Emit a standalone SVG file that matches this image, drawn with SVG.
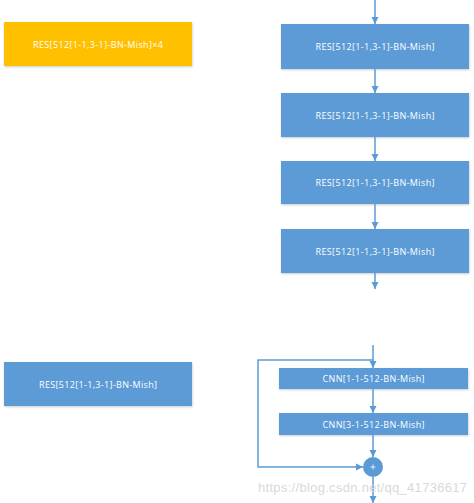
<svg xmlns="http://www.w3.org/2000/svg" width="474" height="503" viewBox="0 0 474 503">
<style>
.blue{fill:#5B9BD5;}
.orange{fill:#FFC000;}
.lbl{fill:#ffffff;font-family:"Open Sans","Liberation Sans",sans-serif;font-size:9px;text-anchor:middle;dominant-baseline:central;}
.con{stroke:#5B9BD5;stroke-width:1.5;fill:none;}
.wm{fill:#d9d9d9;font-family:"Liberation Sans",sans-serif;font-size:13px;}
</style>
<defs>
<marker id="arr" viewBox="0 0 10 10" refX="10" refY="5" markerWidth="5" markerHeight="5" orient="auto" markerUnits="strokeWidth">
<path d="M0,0 L10,5 L0,10 z" fill="#5B9BD5"/>
</marker>
<filter id="sh" x="-5%" y="-10%" width="110%" height="130%">
<feDropShadow dx="0.5" dy="1" stdDeviation="0.8" flood-color="#000" flood-opacity="0.2"/>
</filter>
</defs>
<rect width="474" height="503" fill="#ffffff"/>
<g id="legend-orange"><rect class="orange" x="4" y="22" width="188" height="44" filter="url(#sh)"/><text class="lbl" x="98" y="44" textLength="130">RES[512[1-1,3-1]-BN-Mish]×4</text></g>
<g id="legend-blue"><rect class="blue" x="4" y="362" width="188" height="44" filter="url(#sh)"/><text class="lbl" x="98" y="384" textLength="118">RES[512[1-1,3-1]-BN-Mish]</text></g>
<g id="res1"><rect class="blue" x="281" y="24" width="188" height="45" filter="url(#sh)"/><text class="lbl" x="375" y="46.5" textLength="119">RES[512[1-1,3-1]-BN-Mish]</text></g>
<g id="res2"><rect class="blue" x="281" y="93" width="188" height="44" filter="url(#sh)"/><text class="lbl" x="375" y="115" textLength="119">RES[512[1-1,3-1]-BN-Mish]</text></g>
<g id="res3"><rect class="blue" x="281" y="161" width="188" height="43" filter="url(#sh)"/><text class="lbl" x="375" y="182.5" textLength="119">RES[512[1-1,3-1]-BN-Mish]</text></g>
<g id="res4"><rect class="blue" x="281" y="229" width="188" height="44" filter="url(#sh)"/><text class="lbl" x="375" y="251" textLength="119">RES[512[1-1,3-1]-BN-Mish]</text></g>
<g id="cnn1"><rect class="blue" x="279" y="368" width="189" height="21" filter="url(#sh)"/><text class="lbl" x="373.5" y="378.5" textLength="102">CNN[1-1-512-BN-Mish]</text></g>
<g id="cnn2"><rect class="blue" x="279" y="413" width="189" height="22" filter="url(#sh)"/><text class="lbl" x="373.5" y="424" textLength="102">CNN[3-1-512-BN-Mish]</text></g>
<g id="add"><circle class="blue" cx="373" cy="467" r="10"/><path d="M370.5,467 h5 M373,464.5 v5" stroke="#ffffff" stroke-width="0.8"/></g>
<g id="connectors">
<line class="con" x1="375" y1="0" x2="375" y2="24" marker-end="url(#arr)"/>
<line class="con" x1="375" y1="69" x2="375" y2="93" marker-end="url(#arr)"/>
<line class="con" x1="375" y1="137" x2="375" y2="161" marker-end="url(#arr)"/>
<line class="con" x1="375" y1="204" x2="375" y2="229" marker-end="url(#arr)"/>
<line class="con" x1="375" y1="273" x2="375" y2="289" marker-end="url(#arr)"/>
<line class="con" x1="373" y1="345" x2="373" y2="368" marker-end="url(#arr)"/>
<line class="con" x1="373" y1="389" x2="373" y2="413" marker-end="url(#arr)"/>
<line class="con" x1="373" y1="435" x2="373" y2="457" marker-end="url(#arr)"/>
<line class="con" x1="373" y1="477" x2="373" y2="503" marker-end="url(#arr)"/>
<polyline class="con" points="373,360 258,360 258,467 363,467" marker-end="url(#arr)"/>
</g>
<text class="wm" x="258" y="492" textLength="209">https://blog.csdn.net/qq_41736617</text>
</svg>
